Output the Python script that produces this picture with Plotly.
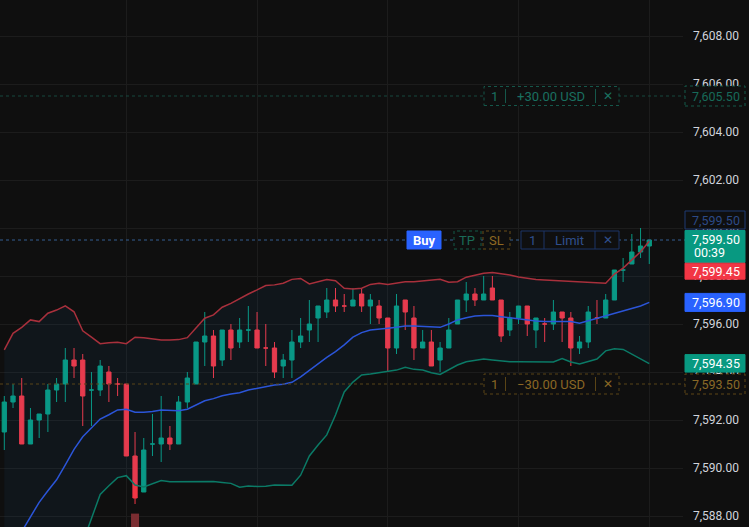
import plotly.graph_objects as go

# ---------------- data ----------------
opens = [7591.5, 7592.75, 7593.0, 7591.0, 7592.0, 7592.25, 7593.25, 7593.5, 7594.5, 7594.5,
         7593.25, 7593.25, 7594.0, 7593.5, 7593.5, 7590.5, 7589.0, 7591.0, 7591.0, 7591.25,
         7591.0, 7592.75, 7593.5, 7595.25, 7595.5, 7594.5, 7595.75, 7595.25, 7595.75, 7595.75,
         7595.0, 7595.0, 7594.25, 7594.5, 7595.25, 7595.75, 7596.25, 7596.5, 7597.0, 7596.75,
         7596.75, 7597.25, 7596.75, 7596.75, 7596.25, 7595.0, 7597.0, 7596.25, 7595.0, 7595.25,
         7594.5, 7595.0, 7596.0, 7597.0, 7597.25, 7597.0, 7597.5, 7597.0, 7595.75, 7596.25,
         7596.75, 7595.75, 7596.0, 7596.0, 7596.5, 7596.25, 7595.0, 7595.25, 7596.25, 7596.25,
         7597.0, 7598.25, 7598.5, 7599.0, 7599.25]
highs = [7593.0, 7593.5, 7593.75, 7592.5, 7592.25, 7593.5, 7593.75, 7595.0, 7595.0, 7594.75,
         7594.0, 7594.5, 7594.25, 7593.75, 7593.5, 7591.5, 7591.25, 7592.25, 7593.0, 7591.75,
         7593.0, 7594.0, 7595.25, 7596.5, 7595.75, 7595.75, 7596.0, 7596.25, 7596.75, 7596.5,
         7596.0, 7595.25, 7594.75, 7595.75, 7596.25, 7597.0, 7596.75, 7597.5, 7597.5, 7597.25,
         7597.5, 7597.5, 7597.25, 7597.0, 7596.25, 7597.25, 7597.0, 7596.75, 7595.75, 7595.75,
         7595.25, 7596.25, 7597.0, 7597.75, 7597.5, 7598.0, 7598.0, 7597.0, 7596.5, 7596.75,
         7596.75, 7596.25, 7596.25, 7597.0, 7596.5, 7596.5, 7595.5, 7596.75, 7597.0, 7597.25,
         7598.25, 7598.75, 7599.75, 7600.0, 7599.5]
lows = [7590.75, 7592.5, 7591.0, 7591.0, 7591.25, 7591.5, 7592.75, 7592.75, 7593.75, 7591.75,
        7591.75, 7593.0, 7592.75, 7593.0, 7590.5, 7588.5, 7589.0, 7590.5, 7590.25, 7590.75,
        7591.0, 7592.5, 7593.5, 7594.25, 7593.75, 7594.25, 7594.5, 7595.0, 7595.25, 7595.0,
        7594.25, 7593.75, 7593.75, 7593.75, 7595.0, 7595.25, 7595.25, 7596.25, 7596.5, 7596.5,
        7596.75, 7596.5, 7596.0, 7596.0, 7594.0, 7594.75, 7595.75, 7594.5, 7595.0, 7594.25,
        7594.0, 7595.0, 7596.0, 7596.5, 7596.75, 7597.0, 7597.0, 7595.25, 7595.5, 7596.0,
        7595.5, 7595.0, 7595.25, 7595.75, 7595.25, 7594.25, 7594.75, 7595.0, 7596.0, 7596.25,
        7597.0, 7597.75, 7598.5, 7598.75, 7598.5]
closes = [7592.75, 7593.0, 7591.0, 7592.0, 7592.25, 7593.25, 7593.5, 7594.5, 7594.25, 7593.0,
          7593.25, 7594.25, 7593.5, 7593.5, 7590.5, 7588.75, 7590.75, 7591.0, 7591.25, 7591.0,
          7592.75, 7593.75, 7595.25, 7595.5, 7594.25, 7595.75, 7595.0, 7595.75, 7595.75, 7595.0,
          7595.0, 7594.0, 7594.5, 7595.25, 7595.5, 7596.0, 7596.75, 7597.0, 7596.75, 7596.75,
          7597.0, 7596.75, 7597.0, 7596.25, 7595.0, 7596.75, 7596.5, 7595.0, 7595.25, 7594.25,
          7595.0, 7595.75, 7597.0, 7597.25, 7597.0, 7597.25, 7597.0, 7595.5, 7596.25, 7596.75,
          7596.0, 7596.25, 7596.0, 7596.5, 7596.25, 7595.0, 7595.25, 7596.5, 7596.25, 7597.0,
          7598.25, 7598.25, 7599.0, 7599.25, 7599.5]

bb_upper = [7594.92, 7595.61, 7595.86, 7596.17, 7596.10, 7596.45, 7596.58, 7596.76, 7596.51, 7595.72,
            7595.45, 7595.18, 7595.22, 7595.24, 7595.18, 7595.45, 7595.43, 7595.39, 7595.33, 7595.33,
            7595.35, 7595.43, 7595.82, 7596.24, 7596.38, 7596.70, 7596.86, 7597.07, 7597.25, 7597.42,
            7597.60, 7597.63, 7597.70, 7597.86, 7597.90, 7597.67, 7597.76, 7597.85, 7597.80, 7597.49,
            7597.46, 7597.49, 7597.65, 7597.70, 7597.65, 7597.72, 7597.76, 7597.76, 7597.79, 7597.83,
            7597.86, 7597.74, 7597.76, 7597.95, 7598.04, 7598.11, 7598.15, 7598.11, 7598.04, 7597.96,
            7597.90, 7597.85, 7597.83, 7597.81, 7597.79, 7597.76, 7597.75, 7597.75, 7597.73, 7597.70,
            7598.08, 7598.33, 7598.67, 7599.01, 7599.45]
bb_basis = [7585.54, 7586.37, 7587.35, 7587.97, 7588.57, 7589.05, 7589.51, 7590.13, 7590.78, 7591.30,
            7591.65, 7592.04, 7592.22, 7592.42, 7592.45, 7592.32, 7592.32, 7592.35, 7592.42, 7592.39,
            7592.39, 7592.45, 7592.63, 7592.80, 7592.89, 7593.01, 7593.08, 7593.14, 7593.25, 7593.32,
            7593.42, 7593.46, 7593.49, 7593.57, 7593.80, 7594.08, 7594.36, 7594.61, 7594.85, 7595.13,
            7595.45, 7595.64, 7595.75, 7595.80, 7595.82, 7595.86, 7595.92, 7595.92, 7595.89, 7595.89,
            7595.86, 7596.00, 7596.17, 7596.26, 7596.33, 7596.35, 7596.35, 7596.30, 7596.25, 7596.21,
            7596.17, 7596.13, 7596.10, 7596.10, 7596.10, 7596.10, 7596.03, 7596.13, 7596.23, 7596.33,
            7596.44, 7596.54, 7596.65, 7596.75, 7596.90]
bb_lower = [7576.17, 7577.14, 7578.83, 7579.77, 7581.05, 7581.66, 7582.44, 7583.49, 7585.05, 7586.89,
            7587.92, 7588.90, 7589.26, 7589.60, 7589.68, 7589.29, 7589.21, 7589.35, 7589.48, 7589.43,
            7589.43, 7589.45, 7589.44, 7589.45, 7589.44, 7589.40, 7589.36, 7589.20, 7589.25, 7589.23,
            7589.24, 7589.29, 7589.28, 7589.28, 7589.70, 7590.50, 7590.96, 7591.38, 7592.21, 7593.17,
            7593.58, 7593.88, 7593.92, 7593.97, 7594.05, 7594.08, 7594.20, 7594.11, 7594.08, 7593.97,
            7593.90, 7594.08, 7594.29, 7594.43, 7594.50, 7594.54, 7594.50, 7594.46, 7594.43, 7594.43,
            7594.42, 7594.42, 7594.42, 7594.42, 7594.56, 7594.42, 7594.33, 7594.44, 7594.54, 7594.88,
            7594.97, 7594.94, 7594.75, 7594.54, 7594.35]

marker_bar_index = [15]
marker_bar_base = [7587.0]
marker_bar_height = [1.1]

grid_candles = [14, 29, 44, 59, 74]

limit_price = 7599.5
tp_price = 7605.5
sl_price = 7593.5
last_price = 7599.5
countdown = "00:39"
qty_text = "1"
tp_text = "+30.00 USD"
sl_text = "\u221230.00 USD"

# ---------------- style ----------------
BG = "#0f0f0f"
GRID = "#1c1c1c"
UP = "#089981"
DOWN = "#f23645"
FONT = "Roboto"
PLOT_W = 683  # plot width in px (figure width minus right axis column)


def px(xpix):
    return xpix / PLOT_W


x = list(range(len(opens)))

fig = go.Figure()

# band background
fig.add_trace(go.Scatter(x=x, y=bb_upper, mode="lines", line=dict(width=0, color="rgba(0,0,0,0)"),
                         hoverinfo="skip", showlegend=False))
fig.add_trace(go.Scatter(x=x, y=bb_lower, mode="lines", line=dict(width=0, color="rgba(0,0,0,0)"),
                         fill="tonexty", fillcolor="rgba(33,150,243,0.055)",
                         hoverinfo="skip", showlegend=False))

fig.add_trace(go.Bar(x=marker_bar_index, y=marker_bar_height, base=marker_bar_base, width=0.92,
                     marker=dict(color="#7a2d31", line=dict(width=0)), showlegend=False))

fig.add_trace(go.Candlestick(
    x=x, open=opens, high=highs, low=lows, close=closes,
    increasing=dict(line=dict(color=UP, width=1), fillcolor=UP),
    decreasing=dict(line=dict(color=DOWN, width=1), fillcolor=DOWN),
    whiskerwidth=0, showlegend=False))

fig.add_trace(go.Scatter(x=x, y=bb_upper, mode="lines", line=dict(color="#a8303c", width=1.5),
                         showlegend=False))
fig.add_trace(go.Scatter(x=x, y=bb_basis, mode="lines", line=dict(color="#2b55d8", width=1.5),
                         showlegend=False))
fig.add_trace(go.Scatter(x=x, y=bb_lower, mode="lines", line=dict(color="#0b7a66", width=1.5),
                         showlegend=False))

shapes = []
annotations = []


def hline(price, color, x1=1.0):
    shapes.append(dict(type="line", xref="paper", yref="y", x0=0, x1=x1, y0=price, y1=price,
                       line=dict(color=color, width=1, dash="dot"), layer="above"))


def box(x0p, x1p, price, top, bottom, line_color, dash="solid", fill=BG, lw=1):
    shapes.append(dict(type="rect", xref="paper", yref="y", ysizemode="pixel", yanchor=price,
                       x0=px(x0p), x1=px(x1p), y0=bottom, y1=top,
                       line=dict(color=line_color, width=lw, dash=dash),
                       fillcolor=fill, layer="above"))


def vsep(xp, price, top, bottom, color):
    shapes.append(dict(type="line", xref="paper", yref="y", ysizemode="pixel", yanchor=price,
                       x0=px(xp), x1=px(xp), y0=bottom, y1=top,
                       line=dict(color=color, width=1), layer="above"))


def text(xp, price, s, color, size=12, shift=0, weight="normal", anchor="center"):
    annotations.append(dict(xref="paper", yref="y", x=px(xp), y=price, text=s, showarrow=False,
                            xanchor=anchor, yanchor="middle", yshift=shift,
                            font=dict(family=FONT, size=size, color=color, weight=weight)))


# order lines
hline(tp_price, "#17493f", x1=px(686))
hline(sl_price, "#594419", x1=px(686))
hline(limit_price, "#355f92", x1=px(686))

# TP order box
TPC = "#15574a"
TPT = "#1a7060"
box(484, 619, tp_price, 9.5, -9.5, TPC, dash="dot")
vsep(505.5, tp_price, 7, -7, TPC)
vsep(595.5, tp_price, 7, -7, TPC)
text(494.5, tp_price, qty_text, TPT, size=13)
text(550.5, tp_price, tp_text, TPT, size=13)
text(607.5, tp_price, "\u2715", TPT, size=12)

# SL order box
SLC = "#5a4416"
SLT = "#8a6724"
box(484, 619, sl_price, 10, -10, SLC, dash="dot")
vsep(505.5, sl_price, 7, -7, SLC)
vsep(595.5, sl_price, 7, -7, SLC)
text(494.5, sl_price, qty_text, SLT, size=13)
text(550.5, sl_price, sl_text, SLT, size=13)
text(607.5, sl_price, "\u2715", SLT, size=12)

# limit order row
box(407, 441, limit_price, 9, -9, "#2962ff", fill="#2962ff")
text(424, limit_price, "Buy", "#ffffff", size=13, weight="bold")
box(454, 481, limit_price, 9, -9, "#145a48", dash="dot")
text(467.5, limit_price, "TP", "#1a6a57", size=13)
box(483, 510, limit_price, 9, -9, "#6a4e19", dash="dot")
text(496.5, limit_price, "SL", "#8f6922", size=13)
LMC = "#1d3466"
LMT = "#2f4f8e"
box(521, 619, limit_price, 9, -9, LMC)
vsep(544, limit_price, 9, -9, LMC)
vsep(595, limit_price, 9, -9, LMC)
text(532.5, limit_price, qty_text, LMT, size=13)
text(569.5, limit_price, "Limit", LMT, size=13)
text(607.5, limit_price, "\u2715", LMT, size=12)

# right-axis price labels
LX0, LX1, LXC = 685, 745, 715.5
box(LX0, LX1, tp_price, 10, -10, "#145a4b", dash="dot")
text(LXC, tp_price, f"{tp_price:,.2f}", "#176a59", size=12.5)
box(LX0, LX1, limit_price, 29, 11, "#1f3a72")
text(LXC, limit_price, f"{limit_price:,.2f}", "#2c4a86", size=12.5, shift=20)
box(LX0, LX1, last_price, 9.5, -22.5, UP, fill=UP)
text(LXC, last_price, f"{last_price:,.2f}", "#ffffff", size=12.5, shift=1)
text(691.5, last_price, countdown, "#ffffff", size=12.5, shift=-12.5, anchor="left")
box(LX0, LX1, bb_upper[-1], -22, -38, DOWN, fill=DOWN)
text(LXC, bb_upper[-1], f"{bb_upper[-1]:,.2f}", "#ffffff", size=12.5, shift=-30)
box(LX0, LX1, bb_basis[-1], 9, -9, "#2962ff", fill="#2962ff")
text(LXC, bb_basis[-1], f"{bb_basis[-1]:,.2f}", "#ffffff", size=12.5)
box(LX0, LX1, bb_lower[-1], 9, -8.5, UP, fill=UP)
text(LXC, bb_lower[-1], f"{bb_lower[-1]:,.2f}", "#ffffff", size=12.5)
box(LX0, LX1, sl_price, 10, -10, "#5e4616", dash="dot")
text(LXC, sl_price, f"{sl_price:,.2f}", "#8a6a27", size=12.5)

fig.update_layout(
    width=749, height=527,
    margin=dict(l=0, r=749 - PLOT_W, t=0, b=0),
    paper_bgcolor=BG, plot_bgcolor=BG,
    showlegend=False, boxgap=0.3,
    shapes=shapes, annotations=annotations,
    font=dict(family=FONT, size=12, color="#d1d4dc"),
    xaxis=dict(range=[-0.4933, 77.87], tickvals=grid_candles, showticklabels=False,
               showgrid=True, gridcolor=GRID, gridwidth=1, zeroline=False, showline=False,
               ticks="", rangeslider=dict(visible=False), fixedrange=True),
    yaxis=dict(range=[7587.542, 7609.5], side="right", dtick=2, tick0=0, tickformat=",.2f",
               showgrid=True, gridcolor=GRID, gridwidth=1, zeroline=False, showline=False,
               ticks="", ticklabelstandoff=9,
               tickfont=dict(family=FONT, size=12, color="#d1d4dc"), fixedrange=True),
)

fig.write_html("out.html")
